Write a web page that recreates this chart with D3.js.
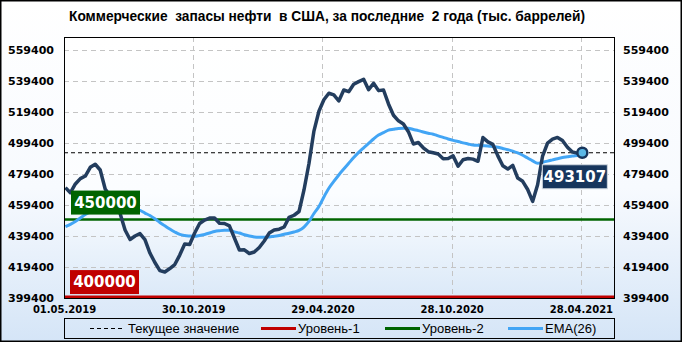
<!DOCTYPE html>
<html>
<head>
<meta charset="utf-8">
<script src="https://cdn.jsdelivr.net/npm/d3@7"></script>
<style>
    body { margin: 0; padding: 0; background: #fff; }
    svg { display: block; }
    .axisLabel { font-family: "DejaVu Sans", Verdana, sans-serif; font-weight: bold; fill: #000; }
    .narrow { font-family: "Liberation Sans Narrow", "Arial Narrow", sans-serif; }
</style>
</head>
<body>
<svg id="chart" width="682" height="342"></svg>
<script>
// weekly commercial crude stocks, thousand barrels (first week ends 03.05.2019)
const firstWeek = new Date(2019, 4, 3);
const stocks = [
    470600, 467300, 473000, 476400, 478100, 483700, 485700, 482000, 469700, 465200,
    460000, 453900, 443300, 437100, 439400, 441000, 437100, 428400, 422300, 417100,
    416200, 418400, 421000, 427100, 434200, 433900, 441300, 447500, 449700, 451000,
    451000, 447600, 447500, 445900, 438100, 430400, 430500, 428100, 429100, 432000,
    436200, 441300, 443300, 443800, 445200, 451400, 452800, 455200, 469100, 486200,
    507100, 519900, 527300, 531500, 530400, 526500, 533600, 532500, 537300, 539000,
    540500, 533800, 537900, 533200, 533600, 524600, 517300, 513700, 511700, 506700,
    498800, 499700, 496300, 493800, 493100, 492300, 489300, 489400, 491100, 484400,
    488600, 489400, 489000, 487600, 502900, 500100, 498500, 491100, 484700, 482600,
    485000, 476800, 474700, 469400, 461700, 472500, 491000, 499400, 501900, 503000,
    501000, 496700, 493600, 492900, 493107
];
// EMA(26) as shown on the chart
const ema26 = [
    445400, 446950, 448750, 451000, 453300, 454900, 456200, 457000, 457700, 458000,
    458100, 457900, 457700, 457300, 456600, 455900, 454200, 452600, 450500, 448100,
    446000, 443900, 442000, 440400, 439700, 439400, 439200, 439700, 440400, 441300,
    442300, 442800, 443100, 443100, 442100, 441300, 440200, 439400, 438800, 438600,
    438600, 438800, 439300, 439700, 440500, 441200, 442000, 443000, 445200, 448800,
    453900, 458400, 464600, 470200, 474600, 478800, 482600, 486300, 490000, 493400,
    496300, 499100, 502000, 504500, 506100, 507700, 508300, 508800, 508900, 508900,
    508100, 507400, 506500, 505700, 505100, 504000, 503000, 502000, 501100, 500400,
    499500, 498800, 498100, 497900, 497700, 497500, 497100, 496700, 495900, 495100,
    494200, 493000, 491500, 489700, 487900, 486400, 487000, 487700, 488500, 489300,
    490000, 490500, 491000, 491300, 491700
];
const level1 = 400000;
const level2 = 450000;
const yTicks = [399400, 419400, 439400, 459400, 479400, 499400, 519400, 539400, 559400];
const xTicks = ["01.05.2019", "30.10.2019", "29.04.2020", "28.10.2020", "28.04.2021"];
const legendNames = ["Текущее значение", "Уровень-1", "Уровень-2", "EMA(26)"];
const title = "Коммерческие  запасы нефти  в США, за последние  2 года (тыс. баррелей)";

class OilChart {
    constructor() {
        this.svg = d3.select("#chart");
        this.width = 682;
        this.height = 342;
        this.left = 64;
        this.right = 615;
        this.top = 37;
        this.bottom = 298;
        this.parseDate = d3.timeParse("%d.%m.%Y");
        this.fmtDate = d3.timeFormat("%d.%m.%Y");
        this.colors = {line: "#233d5e", ema: "#42a5f5", red: "#c00000", green: "#006400", grid: "#c4c4c4"};
    }

    buildData() {
        this.points = stocks.map((v, i) => ({date: d3.timeWeek.offset(firstWeek, i), value: v, ema: ema26[i]}));
        this.x = d3.scaleTime()
            .domain([this.parseDate("01.05.2019"), this.parseDate("15.06.2021")])
            .range([this.left, this.right]);
        this.y = d3.scaleLinear()
            .domain([399400, 567800])
            .range([this.bottom, this.top]);
    }

    drawBackground() {
        let defs = this.svg.append("defs");
        let g1 = defs.append("linearGradient").attr("id", "bgGrad")
            .attr("x1", 0).attr("y1", 0).attr("x2", 0).attr("y2", 1);
        g1.append("stop").attr("offset", "0%").attr("stop-color", "#ffffff");
        g1.append("stop").attr("offset", "55%").attr("stop-color", "#f7fafe");
        g1.append("stop").attr("offset", "100%").attr("stop-color", "#d5e5f7");
        let g2 = defs.append("linearGradient").attr("id", "plotGrad")
            .attr("x1", 0).attr("y1", 0).attr("x2", 0).attr("y2", 1);
        g2.append("stop").attr("offset", "0%").attr("stop-color", "#ffffff");
        g2.append("stop").attr("offset", "60%").attr("stop-color", "#fbfdff");
        g2.append("stop").attr("offset", "100%").attr("stop-color", "#dbe9f8");

        this.svg.append("rect")
            .attr("x", 0.75).attr("y", 0.75)
            .attr("width", this.width - 1.5).attr("height", this.height - 1.5)
            .attr("fill", "url(#bgGrad)")
            .attr("stroke", "#000").attr("stroke-width", 1.5);

        this.svg.append("rect")
            .attr("x", this.left).attr("y", this.top)
            .attr("width", this.right - this.left).attr("height", this.bottom - this.top)
            .attr("fill", "url(#plotGrad)");

        this.svg.append("text")
            .attr("class", "narrow")
            .attr("x", 69).attr("y", 21)
            .attr("textLength", 516).attr("lengthAdjust", "spacingAndGlyphs")
            .style("font-size", "15px").style("font-weight", "bold")
            .style("white-space", "pre")
            .text(title);
    }

    drawAxes() {
        let x = this.x, y = this.y;

        //horizontal grid
        this.svg.append("g").attr("id", "yGrid")
            .selectAll("line").data(yTicks).enter().append("line")
            .attr("x1", this.left).attr("x2", this.right)
            .attr("y1", d => Math.round(y(d)) + 0.5).attr("y2", d => Math.round(y(d)) + 0.5)
            .attr("stroke", this.colors.grid).attr("stroke-dasharray", "5,4");

        //vertical grid
        this.svg.append("g").attr("id", "xGrid")
            .selectAll("line").data(xTicks.slice(1)).enter().append("line")
            .attr("x1", d => Math.round(x(this.parseDate(d))) + 0.5)
            .attr("x2", d => Math.round(x(this.parseDate(d))) + 0.5)
            .attr("y1", this.top).attr("y2", this.bottom)
            .attr("stroke", this.colors.grid).attr("stroke-dasharray", "5,4");

        //left and right axes, text only
        let leftAxis = d3.axisLeft(y).tickValues(yTicks).tickSize(0).tickPadding(0).tickFormat(d3.format("d"));
        let rightAxis = d3.axisRight(y).tickValues(yTicks).tickSize(0).tickPadding(0).tickFormat(d3.format("d"));
        let gl = this.svg.append("g").attr("transform", "translate(54,0)").call(leftAxis);
        let gr = this.svg.append("g").attr("transform", "translate(623,0)").call(rightAxis);
        [gl, gr].forEach(g => {
            g.select(".domain").remove();
            g.selectAll("text").attr("class", "axisLabel").attr("font-size", null)
                .style("font-size", "11px").attr("font-family", null);
        });

        let bottomAxis = d3.axisBottom(x)
            .tickValues(xTicks.map(d => this.parseDate(d)))
            .tickSize(0).tickPadding(0)
            .tickFormat(this.fmtDate);
        let gb = this.svg.append("g").attr("transform", "translate(0,306)").call(bottomAxis);
        gb.select(".domain").remove();
        gb.selectAll("text").attr("class", "axisLabel").attr("font-family", null)
            .style("font-size", "10px");
    }

    drawLevels() {
        let y = this.y;
        let cur = stocks[stocks.length - 1];

        this.svg.append("line")
            .attr("x1", this.left).attr("x2", this.right)
            .attr("y1", y(cur)).attr("y2", y(cur))
            .attr("stroke", "#000").attr("stroke-width", 1).attr("stroke-dasharray", "4,3");

        this.svg.append("line")
            .attr("x1", this.left).attr("x2", this.right)
            .attr("y1", y(level2)).attr("y2", y(level2))
            .attr("stroke", this.colors.green).attr("stroke-width", 2.5);

        this.svg.append("line")
            .attr("x1", this.left).attr("x2", this.right)
            .attr("y1", y(level1)).attr("y2", y(level1))
            .attr("stroke", this.colors.red).attr("stroke-width", 3);
    }

    drawLines() {
        let x = this.x, y = this.y;
        let emaLine = d3.line().curve(d3.curveMonotoneX)
            .x(d => x(d.date)).y(d => y(d.ema));
        // raw weekly values: straight segments
        let mainLine = d3.line()
            .x(d => x(d.date)).y(d => y(d.value));

        this.svg.append("path").datum(this.points)
            .attr("d", emaLine)
            .attr("fill", "none").attr("stroke", this.colors.ema).attr("stroke-width", 3);

        this.svg.append("path").datum(this.points)
            .attr("d", mainLine)
            .attr("fill", "none").attr("stroke", this.colors.line)
            .attr("stroke-width", 3.5).attr("stroke-linejoin", "round");

        let last = this.points[this.points.length - 1];
        this.svg.append("circle")
            .attr("cx", x(last.date)).attr("cy", y(last.value)).attr("r", 5)
            .attr("fill", "#5bb8e6").attr("stroke", "#17365d").attr("stroke-width", 2.5);
    }

    drawLabels() {
        let y = this.y;
        let last = this.points[this.points.length - 1];
        let lx = this.x(last.date), ly = y(last.value);
        let boxes = [
            {text: d3.format("d")(level2), x: this.left + 7, y: y(level2) - 29, w: 69, fill: this.colors.green, stroke: "none"},
            {text: d3.format("d")(level1), x: this.left + 6, y: y(level1) - 27, w: 69, fill: this.colors.red, stroke: "none"},
            {text: d3.format("d")(last.value), x: lx - 40, y: ly + 12, w: 65, fill: "#17365d", stroke: "#d0d8e0"}
        ];
        let g = this.svg.append("g").attr("id", "labelsG");
        let b = g.selectAll("g").data(boxes).enter().append("g");
        b.append("rect")
            .attr("x", d => d.x).attr("y", d => d.y)
            .attr("width", d => d.w).attr("height", 24)
            .attr("fill", d => d.fill).attr("stroke", d => d.stroke);
        b.append("text")
            .attr("x", d => d.x + d.w / 2).attr("y", d => d.y + 12)
            .attr("text-anchor", "middle").attr("dominant-baseline", "central")
            .style("font-family", "'DejaVu Sans', Verdana, sans-serif")
            .style("font-weight", "bold").style("font-size", "15px")
            .style("fill", "#fff")
            .text(d => d.text);
    }

    drawFrame() {
        this.svg.append("rect")
            .attr("x", this.left + 0.5).attr("y", this.top + 0.5)
            .attr("width", this.right - this.left - 1).attr("height", this.bottom - this.top)
            .attr("fill", "none").attr("stroke", "#000").attr("stroke-width", 1);
    }

    drawLegend() {
        let g = this.svg.append("g").attr("id", "legendG");
        g.append("rect")
            .attr("x", this.left + 0.5).attr("y", 318.5)
            .attr("width", this.right - this.left - 1).attr("height", 20)
            .attr("fill", "none").attr("stroke", "#000");

        let items = [
            {x1: 90, x2: 123, tx: 128, color: "#000", w: 1, dash: "4,3"},
            {x1: 261, x2: 296, tx: 298, color: this.colors.red, w: 3, dash: null},
            {x1: 385, x2: 420, tx: 422, color: this.colors.green, w: 3, dash: null},
            {x1: 508, x2: 543, tx: 545, color: this.colors.ema, w: 3, dash: null}
        ];
        let it = g.selectAll("g.item").data(items).enter().append("g").attr("class", "item");
        it.append("line")
            .attr("x1", d => d.x1).attr("x2", d => d.x2)
            .attr("y1", 328.5).attr("y2", 328.5)
            .attr("stroke", d => d.color).attr("stroke-width", d => d.w)
            .attr("stroke-dasharray", d => d.dash);
        it.append("text")
            .attr("class", "narrow")
            .attr("x", d => d.tx).attr("y", 333)
            .style("font-size", "13px")
            .text((d, i) => legendNames[i]);
    }

    draw() {
        this.buildData();
        this.drawBackground();
        this.drawAxes();
        this.drawLevels();
        this.drawLines();
        this.drawFrame();
        this.drawLabels();
        this.drawLegend();
    }
}

let chart = new OilChart();
chart.draw();
</script>
</body>
</html>
